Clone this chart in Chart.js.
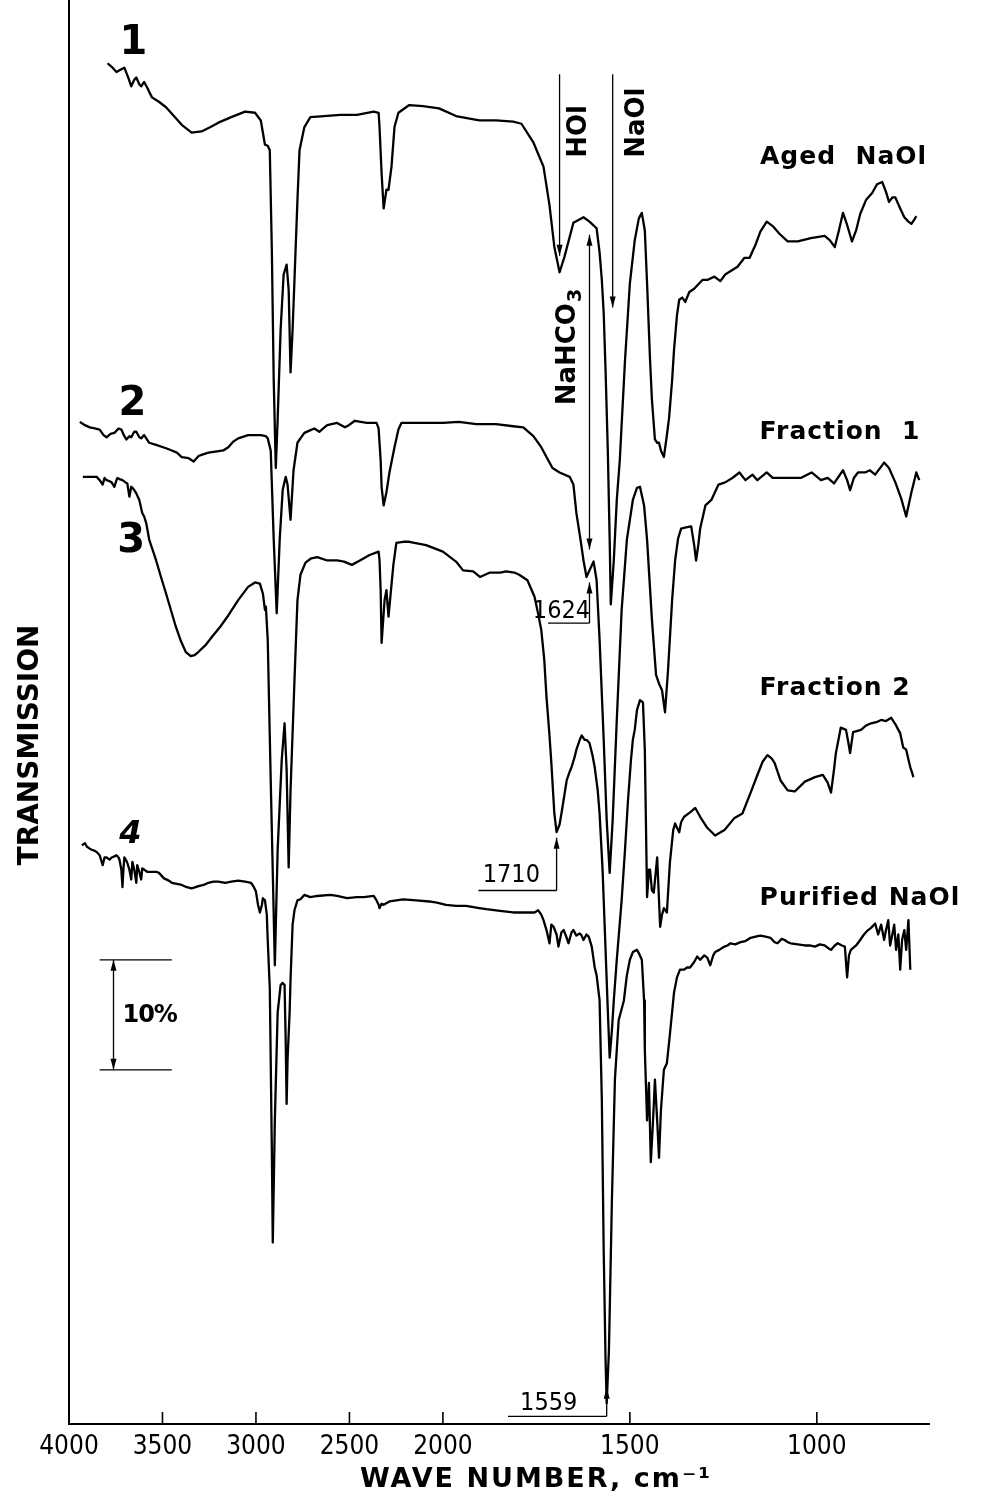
<!DOCTYPE html>
<html><head><meta charset="utf-8">
<script src="https://cdn.jsdelivr.net/npm/chart.js@4.4.1/dist/chart.umd.min.js"></script>
<style>html,body{margin:0;padding:0;background:#fff;}canvas{display:block;}</style>
</head><body>
<canvas id="c" width="983" height="1510" style="width:983px;height:1510px"></canvas>
<script>
// ---- data: [wavenumber cm-1, transmission % (curves offset on one common scale)] ----
const seriesNames = ['Aged  NaOl', 'Fraction  1', 'Fraction 2', 'Purified NaOl'];
const xTickValues = [4000, 3500, 3000, 2500, 2000, 1500, 1000];

const agedNaOl = [[3794,123.7],[3767,123.3],[3746,122.9],[3725,123.1],[3704,123.3],[3683,122.4],[3667,121.6],[3651,122.2],[3640,122.4],[3624,121.8],[3614,121.6],[3598,122.0],[3582,121.5],[3571,121.1],[3556,120.6],[3519,120.2],[3481,119.7],[3439,118.9],[3397,118.1],[3344,117.4],[3291,117.5],[3243,117.9],[3201,118.3],[3132,118.8],[3058,119.3],[3005,119.2],[2974,118.5],[2963,117.4],[2952,116.3],[2937,116.2],[2926,115.8],[2915,106.7],[2905,94.9],[2894,86.9],[2884,91.3],[2868,99.5],[2852,104.5],[2836,105.4],[2825,103.1],[2815,95.6],[2804,99.5],[2794,104.0],[2778,111.3],[2767,115.8],[2741,117.9],[2709,118.8],[2635,118.9],[2550,119.0],[2460,119.0],[2370,119.3],[2344,119.2],[2339,117.9],[2328,113.7],[2317,110.5],[2302,112.2],[2291,112.2],[2275,114.3],[2259,117.9],[2238,119.2],[2180,119.9],[2106,119.8],[2021,119.6],[1965,118.9],[1903,118.5],[1858,118.5],[1812,118.4],[1790,118.2],[1758,116.5],[1731,114.3],[1715,110.8],[1702,107.0],[1688,104.7],[1675,106.1],[1651,109.2],[1624,109.7],[1608,109.3],[1589,108.7],[1581,106.5],[1575,104.0],[1570,101.0],[1565,95.8],[1559,88.5],[1554,80.4],[1551,74.5],[1543,78.5],[1535,84.0],[1527,87.6],[1513,96.7],[1500,103.7],[1487,107.6],[1476,109.6],[1468,110.1],[1460,108.5],[1454,103.7],[1446,96.7],[1441,93.1],[1433,89.5],[1427,89.2],[1422,89.2],[1417,88.5],[1409,87.9],[1401,89.9],[1395,91.5],[1387,94.9],[1382,97.6],[1374,100.8],[1368,102.2],[1360,102.4],[1352,102.0],[1341,102.9],[1328,103.2],[1320,103.5],[1306,104.0],[1293,104.0],[1274,104.3],[1258,103.9],[1245,104.5],[1226,104.9],[1212,105.2],[1194,106.0],[1180,106.0],[1164,107.2],[1151,108.4],[1134,109.3],[1118,108.9],[1100,108.2],[1078,107.5],[1051,107.5],[1016,107.8],[979,108.0],[965,107.6],[952,107.0],[941,108.5],[930,110.1],[919,109.0],[906,107.5],[895,108.5],[884,110.0],[868,111.3],[852,111.9],[839,112.7],[825,112.9],[815,112.0],[807,111.1],[798,111.5],[790,111.5],[777,110.5],[766,109.7],[755,109.3],[747,109.1],[739,109.5],[734,109.8]];

const fraction1 = [[3942,91.1],[3915,90.8],[3889,90.6],[3862,90.5],[3836,90.4],[3815,89.9],[3799,89.7],[3778,90.0],[3757,90.1],[3735,90.5],[3720,90.4],[3704,89.8],[3693,89.5],[3677,89.8],[3667,89.7],[3651,90.2],[3640,90.2],[3624,89.7],[3614,89.6],[3598,89.9],[3571,89.2],[3534,89.0],[3481,88.7],[3450,88.5],[3423,88.3],[3397,87.9],[3360,87.8],[3333,87.5],[3307,88.0],[3291,88.1],[3254,88.3],[3217,88.4],[3175,88.5],[3148,88.8],[3122,89.3],[3095,89.6],[3042,89.9],[2974,89.9],[2947,89.8],[2937,89.6],[2921,88.5],[2905,80.4],[2889,73.7],[2873,80.4],[2857,84.9],[2841,86.1],[2831,85.4],[2815,82.2],[2799,86.7],[2778,89.2],[2762,89.6],[2741,90.1],[2714,90.3],[2688,90.5],[2661,90.2],[2640,90.5],[2619,90.8],[2566,91.0],[2524,90.6],[2503,90.8],[2471,91.2],[2407,91.0],[2355,91.0],[2344,90.5],[2333,87.6],[2328,85.2],[2317,83.5],[2302,84.7],[2286,86.5],[2259,88.8],[2238,90.4],[2222,91.0],[2159,91.0],[2090,91.0],[2000,91.0],[1957,91.1],[1911,90.9],[1858,90.9],[1812,90.7],[1785,90.6],[1758,89.8],[1737,88.8],[1723,87.9],[1707,86.9],[1688,86.5],[1661,86.1],[1651,85.4],[1643,82.8],[1632,80.4],[1624,78.5],[1616,77.0],[1608,77.6],[1597,78.4],[1589,76.7],[1581,71.3],[1570,62.2],[1562,54.9],[1554,50.1],[1546,54.9],[1535,64.0],[1522,74.0],[1508,80.4],[1492,84.0],[1481,85.1],[1473,85.2],[1462,83.5],[1454,80.4],[1441,73.1],[1430,68.1],[1422,67.3],[1414,66.7],[1406,64.7],[1398,68.5],[1387,74.9],[1379,78.5],[1371,80.5],[1363,81.4],[1350,81.5],[1336,81.6],[1328,79.9],[1323,78.5],[1317,79.9],[1312,81.4],[1298,83.5],[1282,84.0],[1263,85.4],[1245,85.6],[1226,86.0],[1207,86.5],[1191,85.8],[1172,86.3],[1159,85.8],[1134,86.5],[1118,86.0],[1081,86.0],[1043,86.0],[1014,86.5],[989,85.8],[971,86.0],[954,85.5],[930,86.7],[919,85.8],[911,84.9],[901,86.0],[890,86.5],[871,86.5],[858,86.7],[844,86.3],[820,87.4],[807,86.9],[790,85.6],[774,84.1],[761,82.5],[747,84.7],[734,86.5],[726,85.8]];

const fraction2 = [[3926,86.1],[3889,86.1],[3852,86.1],[3836,85.8],[3820,85.4],[3810,86.0],[3799,85.8],[3783,85.7],[3772,85.6],[3757,85.2],[3746,85.8],[3741,86.0],[3730,85.9],[3714,85.8],[3698,85.6],[3688,85.5],[3677,84.3],[3667,85.2],[3661,85.1],[3651,84.9],[3640,84.6],[3624,84.0],[3608,82.8],[3598,82.5],[3587,81.9],[3571,80.4],[3534,78.5],[3508,77.0],[3481,75.5],[3455,74.0],[3429,72.5],[3402,71.2],[3376,70.2],[3349,69.8],[3328,69.9],[3307,70.2],[3270,70.8],[3238,71.5],[3190,72.5],[3148,73.5],[3095,74.9],[3042,76.1],[3005,76.5],[2979,76.4],[2963,75.5],[2952,74.0],[2947,74.3],[2937,71.3],[2921,58.5],[2899,41.7],[2884,52.2],[2862,60.4],[2847,63.7],[2836,59.5],[2825,50.6],[2815,57.6],[2794,67.6],[2778,74.9],[2762,77.2],[2735,78.3],[2704,78.7],[2672,78.8],[2619,78.5],[2566,78.5],[2529,78.4],[2487,78.1],[2444,78.5],[2392,79.0],[2344,79.3],[2339,78.5],[2333,75.8],[2328,71.0],[2312,74.9],[2302,75.8],[2291,73.4],[2280,75.4],[2265,78.1],[2249,80.1],[2212,80.2],[2180,80.2],[2090,79.9],[2000,79.3],[1965,78.4],[1946,77.6],[1919,77.5],[1901,77.0],[1874,77.4],[1847,77.4],[1831,77.5],[1809,77.4],[1796,77.2],[1774,76.7],[1755,75.2],[1745,73.6],[1737,72.2],[1729,69.5],[1723,66.1],[1715,62.6],[1710,60.1],[1702,55.5],[1696,53.8],[1688,54.5],[1683,55.5],[1675,57.2],[1669,58.5],[1661,59.3],[1656,59.7],[1648,60.6],[1643,61.3],[1634,62.2],[1629,62.6],[1621,62.2],[1616,62.2],[1608,61.9],[1600,60.8],[1594,59.7],[1586,57.6],[1581,55.5],[1573,50.4],[1565,43.1],[1559,37.6],[1554,33.3],[1548,35.8],[1543,38.5],[1535,42.2],[1522,47.6],[1513,52.2],[1505,56.7],[1497,60.4],[1492,62.2],[1487,63.1],[1481,64.9],[1473,65.8],[1465,65.6],[1460,61.3],[1454,47.9],[1449,50.4],[1446,50.4],[1441,48.5],[1436,48.3],[1427,51.5],[1419,45.2],[1414,46.3],[1409,46.9],[1401,46.5],[1393,51.0],[1384,54.0],[1379,54.6],[1374,54.2],[1368,53.8],[1363,54.7],[1355,55.2],[1339,55.6],[1325,56.0],[1312,55.2],[1293,54.2],[1272,53.5],[1247,54.0],[1220,55.1],[1199,55.5],[1177,57.4],[1159,59.0],[1145,60.2],[1132,60.8],[1121,60.5],[1113,60.1],[1097,58.5],[1078,57.6],[1059,57.5],[1032,58.4],[1005,58.8],[984,59.0],[971,58.3],[962,57.4],[954,59.5],[949,61.0],[936,63.3],[922,63.1],[917,62.2],[911,61.0],[903,62.9],[882,63.1],[868,63.5],[855,63.7],[841,63.8],[828,64.0],[815,63.9],[801,64.2],[788,63.5],[782,63.1],[777,62.8],[769,61.5],[761,61.3],[755,60.4],[750,59.7],[745,59.2],[742,58.8]];

const purifiedNaOl = [[3931,52.6],[3915,52.8],[3905,52.5],[3889,52.3],[3878,52.2],[3862,52.1],[3852,52.0],[3836,51.7],[3820,50.8],[3810,51.5],[3799,51.5],[3783,51.3],[3772,51.5],[3757,51.6],[3746,51.7],[3735,51.5],[3730,51.3],[3720,50.4],[3714,48.8],[3709,50.4],[3704,51.5],[3693,51.2],[3688,51.0],[3677,50.4],[3667,49.5],[3661,51.1],[3651,50.4],[3640,49.2],[3635,50.8],[3624,50.2],[3614,49.5],[3608,50.5],[3598,50.4],[3582,50.2],[3556,50.2],[3534,50.2],[3519,50.1],[3492,49.6],[3466,49.4],[3450,49.2],[3423,49.1],[3397,49.0],[3370,48.8],[3344,48.7],[3323,48.8],[3307,48.9],[3280,49.0],[3254,49.2],[3228,49.3],[3201,49.3],[3164,49.2],[3132,49.3],[3095,49.4],[3058,49.3],[3026,49.2],[3011,48.8],[3000,48.4],[2989,47.2],[2979,46.5],[2968,47.2],[2963,47.8],[2952,47.6],[2942,46.3],[2937,44.0],[2926,39.6],[2915,24.9],[2910,16.5],[2899,27.6],[2884,37.4],[2868,39.9],[2857,40.1],[2847,39.9],[2841,34.9],[2836,29.1],[2831,33.1],[2820,37.4],[2815,40.4],[2804,45.4],[2794,46.7],[2778,47.6],[2762,47.7],[2741,48.1],[2709,47.9],[2672,48.0],[2603,48.1],[2566,48.0],[2513,47.8],[2460,47.9],[2423,47.9],[2370,48.0],[2355,47.6],[2344,47.2],[2339,46.9],[2328,47.3],[2317,47.2],[2286,47.5],[2249,47.6],[2212,47.7],[2143,47.6],[2074,47.5],[2032,47.4],[1992,47.2],[1965,47.1],[1938,47.1],[1903,46.9],[1884,46.8],[1858,46.7],[1836,46.6],[1812,46.5],[1790,46.5],[1769,46.5],[1755,46.5],[1745,46.7],[1737,46.3],[1731,45.8],[1723,44.9],[1715,43.7],[1710,45.4],[1704,45.2],[1696,44.5],[1691,43.4],[1683,44.7],[1677,44.9],[1669,44.2],[1664,43.7],[1656,44.7],[1651,44.9],[1643,44.4],[1634,44.6],[1629,44.4],[1624,44.0],[1616,44.5],[1610,44.3],[1602,43.4],[1594,41.5],[1589,40.8],[1581,38.5],[1575,29.5],[1570,15.8],[1565,5.8],[1562,1.9],[1556,6.7],[1554,10.1],[1548,20.4],[1540,31.3],[1530,36.7],[1516,38.5],[1508,40.8],[1500,42.2],[1492,42.9],[1481,43.1],[1476,42.8],[1468,42.2],[1462,38.5],[1460,34.0],[1454,27.6],[1449,31.0],[1444,23.8],[1438,27.6],[1433,31.3],[1427,27.6],[1422,24.2],[1417,28.5],[1409,32.2],[1401,32.8],[1393,35.4],[1382,39.2],[1374,40.6],[1366,41.3],[1355,41.3],[1347,41.5],[1339,41.5],[1328,42.0],[1320,42.5],[1312,42.2],[1301,42.6],[1293,42.4],[1285,41.7],[1277,42.6],[1272,42.9],[1261,43.1],[1247,43.4],[1239,43.5],[1231,43.7],[1218,43.6],[1204,43.8],[1191,43.9],[1177,44.2],[1164,44.3],[1151,44.4],[1137,44.3],[1124,44.2],[1113,43.8],[1105,43.7],[1094,44.1],[1086,44.0],[1078,43.8],[1070,43.7],[1051,43.6],[1032,43.5],[1019,43.5],[1005,43.4],[992,43.6],[979,43.5],[971,43.3],[962,43.1],[952,43.5],[944,43.7],[933,43.5],[925,43.4],[919,40.6],[914,42.6],[909,43.1],[895,43.5],[884,44.0],[874,44.5],[863,44.9],[855,45.1],[844,45.5],[836,44.5],[828,45.4],[820,44.0],[815,44.9],[809,45.8],[804,43.5],[798,44.5],[793,45.4],[788,43.1],[782,44.5],[777,41.3],[772,44.0],[766,44.9],[761,43.1],[755,45.8],[750,41.3]];

// annotation anchors, in data units [text, wavenumber, transmission]
const curveNumbers = [['1',3656,124.5],['2',3661,91.7],['3',3667,79.3],['4',3672,52.8]];
const curveLabelPos = [[1152,114.5],[1153,89.5],[1153,66.3],[1153,47.2]];
const bandArrows = [{text:'HOl', w:1688, from:122.7, to:106.2, tw:1616, tv:115.1},
                    {text:'NaOl', w:1546, from:122.7, to:101.5, tw:1462, tv:115.1}];
const nahco3 = {w:1608, top:108.1, bottom:79.5, tw:1648, tv:92.6};
const peakMarks = [{text:'1624', w:1608, tip:76.5, base:72.8, wEnd:1719, tw:1683, tv:73.3},
                   {text:'1710', w:1696, tip:53.3, base:48.5, wEnd:1905, tw:1817, tv:49.3},
                   {text:'1559', w:1562, tip:3.3, base:0.7, wEnd:1826, tw:1717, tv:1.3}];
const scaleBar = {wLeft:3836, wRight:3450, wArrow:3762, top:42.2, bottom:32.2, text:'10%', tw:3714, tv:36.5};

// ---- scale with the spectrometer's 2x expansion below 2000 cm-1 ----
const X_MAX = 4000, X_MIN = 700, X_BREAK = 2000, X_EXPAND = 2;
const fontBold = '"DejaVu Sans", "Liberation Sans", sans-serif';
const fontNarrow = '"Liberation Sans Narrow", "DejaVu Sans Condensed", "Roboto Condensed", sans-serif';

class IRScale extends Chart.LinearScale {
  _fold(v) { return v >= X_BREAK ? (X_MAX - v) : (X_MAX - X_BREAK) + X_EXPAND * (X_BREAK - v); }
  buildTicks() { return xTickValues.map(v => ({value: v})); }
  getPixelForValue(v) {
    if (v === null || v === undefined || isNaN(v)) return NaN;
    return this.getPixelForDecimal(this._fold(v) / this._fold(X_MIN));
  }
  getValueForPixel(p) {
    const t = this.getDecimalForPixel(p) * this._fold(X_MIN);
    const a = X_MAX - X_BREAK;
    return t <= a ? X_MAX - t : X_BREAK - (t - a) / X_EXPAND;
  }
  drawTitle() { const c = this.ctx; c.save(); c.letterSpacing = '2px'; c.translate(37, 0); super.drawTitle(); c.restore(); }
}
IRScale.id = 'irscale';
IRScale.defaults = Chart.LinearScale.defaults;

class PlainYScale extends Chart.LinearScale {
  drawTitle() { const c = this.ctx; c.save(); c.translate(0, 33); super.drawTitle(); c.restore(); }
}
PlainYScale.id = 'plainy';
PlainYScale.defaults = Chart.LinearScale.defaults;
Chart.register(IRScale, PlainYScale);

function seg(ctx, x1, y1, x2, y2) { ctx.beginPath(); ctx.moveTo(x1, y1); ctx.lineTo(x2, y2); ctx.stroke(); }
function head(ctx, x, y, dir) { // dir +1: pointing down, -1: pointing up; tip at (x,y)
  ctx.beginPath(); ctx.moveTo(x, y); ctx.lineTo(x - 3, y - dir * 11); ctx.lineTo(x + 3, y - dir * 11); ctx.closePath(); ctx.fill();
}
function txt(ctx, s, x, y, o) {
  ctx.save();
  ctx.font = o.font; ctx.fillStyle = '#000';
  ctx.textAlign = o.align || 'left'; ctx.textBaseline = o.baseline || 'alphabetic';
  ctx.letterSpacing = (o.ls || 0) + 'px';
  ctx.translate(x, y); if (o.rot) ctx.rotate(o.rot);
  ctx.fillText(s, 0, 0);
  ctx.restore();
}

const annotationsPlugin = {
  id: 'annotations',
  afterDraw(chart) {
    const ctx = chart.ctx, xs = chart.scales.x, ys = chart.scales.y;
    const X = w => xs.getPixelForValue(w), Y = v => ys.getPixelForValue(v);
    ctx.save();
    ctx.strokeStyle = '#000'; ctx.fillStyle = '#000';
    // inward tick marks
    ctx.lineWidth = 1.6;
    xTickValues.forEach(v => seg(ctx, X(v), Y(0), X(v), Y(0) - 12));
    // band arrows
    ctx.lineWidth = 1.3;
    bandArrows.forEach(a => {
      seg(ctx, X(a.w), Y(a.from), X(a.w), Y(a.to)); head(ctx, X(a.w), Y(a.to), 1);
      txt(ctx, a.text, X(a.tw), Y(a.tv), {font: 'bold 26px ' + fontBold, rot: -Math.PI / 2});
    });
    // NaHCO3 double arrow
    seg(ctx, X(nahco3.w), Y(nahco3.top), X(nahco3.w), Y(nahco3.bottom));
    head(ctx, X(nahco3.w), Y(nahco3.top), -1); head(ctx, X(nahco3.w), Y(nahco3.bottom), 1);
    ctx.save();
    ctx.translate(X(nahco3.tw), Y(nahco3.tv)); ctx.rotate(-Math.PI / 2);
    ctx.font = 'bold 26px ' + fontBold; ctx.textAlign = 'left'; ctx.textBaseline = 'alphabetic';
    ctx.fillText('NaHCO', 0, 0);
    const wMain = ctx.measureText('NaHCO').width;
    ctx.font = 'bold 19px ' + fontBold; ctx.fillText('3', wMain + 1, 6);
    ctx.restore();
    // peak position brackets
    peakMarks.forEach(p => {
      seg(ctx, X(p.wEnd), Y(p.base), X(p.w), Y(p.base));
      seg(ctx, X(p.w), Y(p.base), X(p.w), Y(p.tip));
      head(ctx, X(p.w), Y(p.tip), -1);
      txt(ctx, p.text, X(p.tw), Y(p.tv), {font: '25px ' + fontNarrow, align: 'center', ls: 0});
    });
    // 10% scale bar
    seg(ctx, X(scaleBar.wLeft), Y(scaleBar.top), X(scaleBar.wRight), Y(scaleBar.top));
    seg(ctx, X(scaleBar.wLeft), Y(scaleBar.bottom), X(scaleBar.wRight), Y(scaleBar.bottom));
    seg(ctx, X(scaleBar.wArrow), Y(scaleBar.top), X(scaleBar.wArrow), Y(scaleBar.bottom));
    head(ctx, X(scaleBar.wArrow), Y(scaleBar.top), -1); head(ctx, X(scaleBar.wArrow), Y(scaleBar.bottom), 1);
    txt(ctx, scaleBar.text, X(scaleBar.tw), Y(scaleBar.tv), {font: 'bold 24px ' + fontBold, ls: -1});
    // curve numbers and names
    curveNumbers.forEach(n => txt(ctx, n[0], X(n[1]), Y(n[2]), {font: (n[0] === '4' ? 'italic bold 32px ' : 'bold 40px ') + fontBold, align: 'center'}));
    seriesNames.forEach((s, i) => txt(ctx, s, X(curveLabelPos[i][0]), Y(curveLabelPos[i][1]), {font: 'bold 25px ' + fontBold, ls: 1}));
    ctx.restore();
  }
};

const allSeries = [agedNaOl, fraction1, fraction2, purifiedNaOl];
new Chart(document.getElementById('c'), {
  type: 'line',
  data: {
    datasets: allSeries.map((arr, i) => ({
      label: seriesNames[i],
      data: arr.map(p => ({x: p[0], y: p[1]})),
      borderColor: '#000', borderWidth: 2.3, pointRadius: 0, fill: false, tension: 0,
      borderJoinStyle: 'round'
    }))
  },
  options: {
    responsive: false, animation: false, devicePixelRatio: 1,
    layout: {padding: {left: 0, right: 54, top: 0, bottom: 0}},
    plugins: {legend: {display: false}, tooltip: {enabled: false}},
    scales: {
      x: {
        type: 'irscale', min: X_MIN, max: X_MAX, position: 'bottom',
        grid: {display: false, drawTicks: false},
        border: {display: true, color: '#000', width: 2},
        ticks: {autoSkip: false, maxRotation: 0, minRotation: 0, padding: 8, color: '#000',
                font: {family: fontNarrow, size: 26}, callback: v => String(v)},
        title: {display: true, text: 'WAVE NUMBER, cm⁻¹', color: '#000',
                font: {family: fontBold, size: 27, weight: 'bold'}, padding: {top: 0, bottom: 14}},
        afterFit(s) { s.height = 86; s.paddingLeft = 0; s.paddingRight = 0; }
      },
      y: {
        type: 'plainy', min: 0, max: 129.45, position: 'left',
        grid: {display: false, drawTicks: false},
        border: {display: true, color: '#000', width: 2},
        ticks: {display: false},
        title: {display: true, text: 'TRANSMISSION', color: '#000',
                font: {family: fontBold, size: 28, weight: 'bold'}, padding: {top: 14, bottom: 0}},
        afterFit(s) { s.width = 69; }
      }
    }
  },
  plugins: [annotationsPlugin]
});
</script>
</body></html>
